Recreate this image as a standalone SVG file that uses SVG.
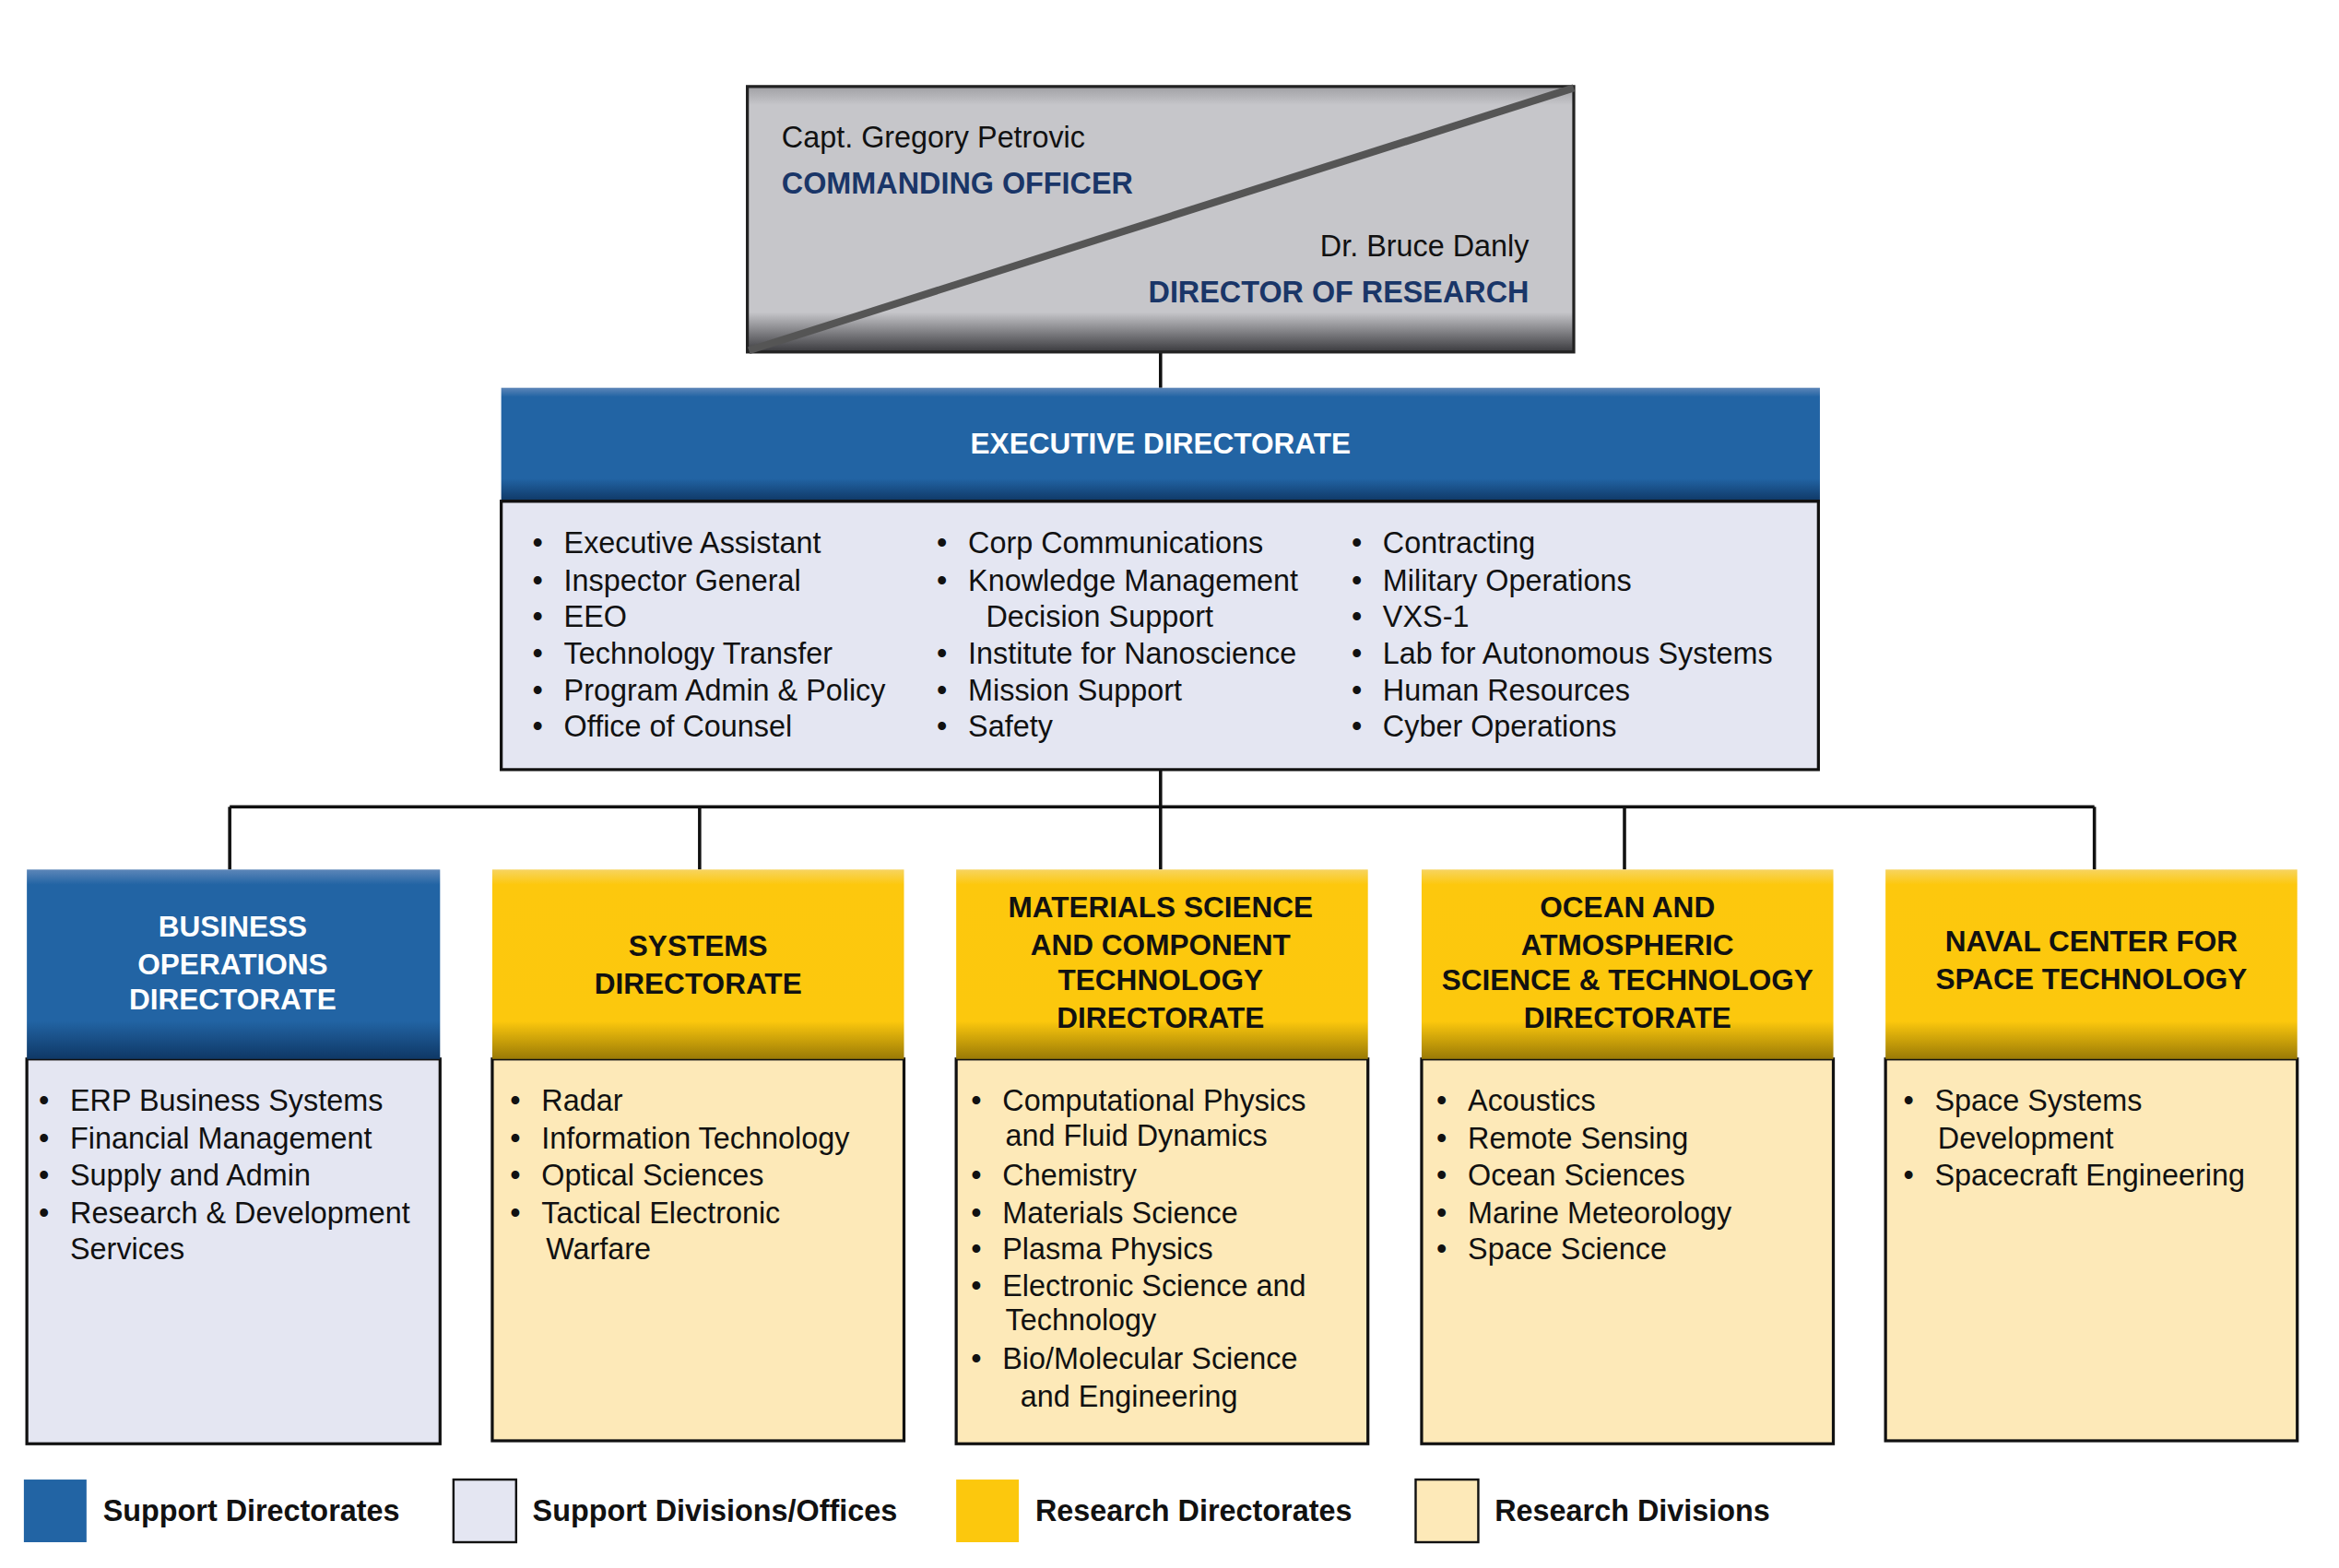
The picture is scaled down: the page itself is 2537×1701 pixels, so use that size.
<svg xmlns="http://www.w3.org/2000/svg" width="2537" height="1701" viewBox="0 0 2537 1701">
<style>
text{font-family:"Liberation Sans",Arial,sans-serif;font-size:20px;fill:#111}
.h{font-weight:bold;fill:#111;text-anchor:middle;font-size:19.5px}
.hw{font-weight:bold;fill:#fff;text-anchor:middle;font-size:19.5px}
.nv{font-weight:bold;fill:#1a3668}
.lg{font-weight:bold}
.body{stroke:#111;stroke-width:2}
.con{stroke:#111;stroke-width:2.2;fill:none}
</style>
<defs>
<linearGradient id="gb" x1="0" y1="0" x2="0" y2="1"><stop offset="0" stop-color="#5d86b8"/><stop offset="0.08" stop-color="#2264a4"/><stop offset="0.8" stop-color="#2264a4"/><stop offset="1" stop-color="#0f3866"/></linearGradient>
<linearGradient id="gy" x1="0" y1="0" x2="0" y2="1"><stop offset="0" stop-color="#f7d460"/><stop offset="0.08" stop-color="#fdc80d"/><stop offset="0.8" stop-color="#fcc80d"/><stop offset="1" stop-color="#9a7a06"/></linearGradient>
<linearGradient id="gg" x1="0" y1="0" x2="0" y2="1"><stop offset="0" stop-color="#a0a0a4"/><stop offset="0.07" stop-color="#c6c6ca"/><stop offset="0.85" stop-color="#c6c6ca"/><stop offset="1" stop-color="#3a3a3e"/></linearGradient>
</defs>
<rect width="2537" height="1701" fill="#fff"/>
<g transform="scale(1.618)">
<g id="connectors" class="con">
<path d="M778 236V260M778 516V541M154 541H1404M154 541V583M469 541V583M778 541V583M1089 541V583M1404 541V583"/>
</g>
<g id="top">
<rect x="501" y="58" width="554" height="178" fill="url(#gg)" stroke="#222" stroke-width="2"/>
<line x1="502" y1="235" x2="1055" y2="59" stroke="#555" stroke-width="5"/>
<text x="524" y="99">Capt. Gregory Petrovic</text>
<text x="524" y="130" class="nv">COMMANDING OFFICER</text>
<text x="1025" y="172" text-anchor="end">Dr. Bruce Danly</text>
<text x="1025" y="203" text-anchor="end" class="nv">DIRECTOR OF RESEARCH</text>
</g>
<g id="exec">
<rect x="336" y="336" width="883" height="180" fill="#e4e6f2" class="body"/>
<rect x="336" y="260" width="884" height="76" fill="url(#gb)"/>
<line x1="336" y1="336" x2="1220" y2="336" stroke="#111" stroke-width="2"/>
<text x="778" y="304" class="hw">EXECUTIVE DIRECTORATE</text>
<g>
<text x="357" y="371">•</text><text x="378" y="371">Executive Assistant</text>
<text x="357" y="396">•</text><text x="378" y="396">Inspector General</text>
<text x="357" y="420">•</text><text x="378" y="420">EEO</text>
<text x="357" y="445">•</text><text x="378" y="445">Technology Transfer</text>
<text x="357" y="470">•</text><text x="378" y="470">Program Admin &amp; Policy</text>
<text x="357" y="494">•</text><text x="378" y="494">Office of Counsel</text>
<text x="628" y="371">•</text><text x="649" y="371">Corp Communications</text>
<text x="628" y="396">•</text><text x="649" y="396">Knowledge Management</text>
<text x="661" y="420">Decision Support</text>
<text x="628" y="445">•</text><text x="649" y="445">Institute for Nanoscience</text>
<text x="628" y="470">•</text><text x="649" y="470">Mission Support</text>
<text x="628" y="494">•</text><text x="649" y="494">Safety</text>
<text x="906" y="371">•</text><text x="927" y="371">Contracting</text>
<text x="906" y="396">•</text><text x="927" y="396">Military Operations</text>
<text x="906" y="420">•</text><text x="927" y="420">VXS-1</text>
<text x="906" y="445">•</text><text x="927" y="445">Lab for Autonomous Systems</text>
<text x="906" y="470">•</text><text x="927" y="470">Human Resources</text>
<text x="906" y="494">•</text><text x="927" y="494">Cyber Operations</text>
</g>
</g>
<g id="business">
<rect x="18" y="710" width="277" height="258" fill="#e4e6f2" class="body"/>
<rect x="18" y="583" width="277" height="127" fill="url(#gb)"/>
<text x="156" y="628" class="hw">BUSINESS</text><text x="156" y="653" class="hw">OPERATIONS</text><text x="156" y="677" class="hw">DIRECTORATE</text>
<text x="26" y="745">•</text><text x="47" y="745">ERP Business Systems</text>
<text x="26" y="770">•</text><text x="47" y="770">Financial Management</text>
<text x="26" y="795">•</text><text x="47" y="795">Supply and Admin</text>
<text x="26" y="820">•</text><text x="47" y="820">Research &amp; Development</text>
<text x="47" y="844">Services</text>
</g>
<g id="systems">
<rect x="330" y="710" width="276" height="256" fill="#fde9b8" class="body"/>
<rect x="330" y="583" width="276" height="127" fill="url(#gy)"/>
<text x="468" y="641" class="h">SYSTEMS</text><text x="468" y="666" class="h">DIRECTORATE</text>
<text x="342" y="745">•</text><text x="363" y="745">Radar</text>
<text x="342" y="770">•</text><text x="363" y="770">Information Technology</text>
<text x="342" y="795">•</text><text x="363" y="795">Optical Sciences</text>
<text x="342" y="820">•</text><text x="363" y="820">Tactical Electronic</text>
<text x="366" y="844">Warfare</text>
</g>
<g id="materials">
<rect x="641" y="710" width="276" height="258" fill="#fde9b8" class="body"/>
<rect x="641" y="583" width="276" height="127" fill="url(#gy)"/>
<text x="778" y="615" class="h">MATERIALS SCIENCE</text><text x="778" y="640" class="h">AND COMPONENT</text><text x="778" y="664" class="h">TECHNOLOGY</text><text x="778" y="689" class="h">DIRECTORATE</text>
<text x="651" y="745">•</text><text x="672" y="745">Computational Physics</text>
<text x="674" y="768">and Fluid Dynamics</text>
<text x="651" y="795">•</text><text x="672" y="795">Chemistry</text>
<text x="651" y="820">•</text><text x="672" y="820">Materials Science</text>
<text x="651" y="844">•</text><text x="672" y="844">Plasma Physics</text>
<text x="651" y="869">•</text><text x="672" y="869">Electronic Science and</text>
<text x="674" y="892">Technology</text>
<text x="651" y="918">•</text><text x="672" y="918">Bio/Molecular Science</text>
<text x="684" y="943">and Engineering</text>
</g>
<g id="ocean">
<rect x="953" y="710" width="276" height="258" fill="#fde9b8" class="body"/>
<rect x="953" y="583" width="276" height="127" fill="url(#gy)"/>
<text x="1091" y="615" class="h">OCEAN AND</text><text x="1091" y="640" class="h">ATMOSPHERIC</text><text x="1091" y="664" class="h">SCIENCE &amp; TECHNOLOGY</text><text x="1091" y="689" class="h">DIRECTORATE</text>
<text x="963" y="745">•</text><text x="984" y="745">Acoustics</text>
<text x="963" y="770">•</text><text x="984" y="770">Remote Sensing</text>
<text x="963" y="795">•</text><text x="984" y="795">Ocean Sciences</text>
<text x="963" y="820">•</text><text x="984" y="820">Marine Meteorology</text>
<text x="963" y="844">•</text><text x="984" y="844">Space Science</text>
</g>
<g id="naval">
<rect x="1264" y="710" width="276" height="256" fill="#fde9b8" class="body"/>
<rect x="1264" y="583" width="276" height="127" fill="url(#gy)"/>
<text x="1402" y="638" class="h">NAVAL CENTER FOR</text><text x="1402" y="663" class="h">SPACE TECHNOLOGY</text>
<text x="1276" y="745">•</text><text x="1297" y="745">Space Systems</text>
<text x="1299" y="770">Development</text>
<text x="1276" y="795">•</text><text x="1297" y="795">Spacecraft Engineering</text>
</g>
<g id="legend">
<rect x="16" y="992" width="42" height="42" fill="#2264a4"/>
<text x="69" y="1020" class="lg">Support Directorates</text>
<rect x="304" y="992" width="42" height="42" fill="#e4e6f2" stroke="#111" stroke-width="1.5"/>
<text x="357" y="1020" class="lg">Support Divisions/Offices</text>
<rect x="641" y="992" width="42" height="42" fill="#fcc80d"/>
<text x="694" y="1020" class="lg">Research Directorates</text>
<rect x="949" y="992" width="42" height="42" fill="#fde9b8" stroke="#111" stroke-width="1.5"/>
<text x="1002" y="1020" class="lg">Research Divisions</text>
</g>
</g>
</svg>
